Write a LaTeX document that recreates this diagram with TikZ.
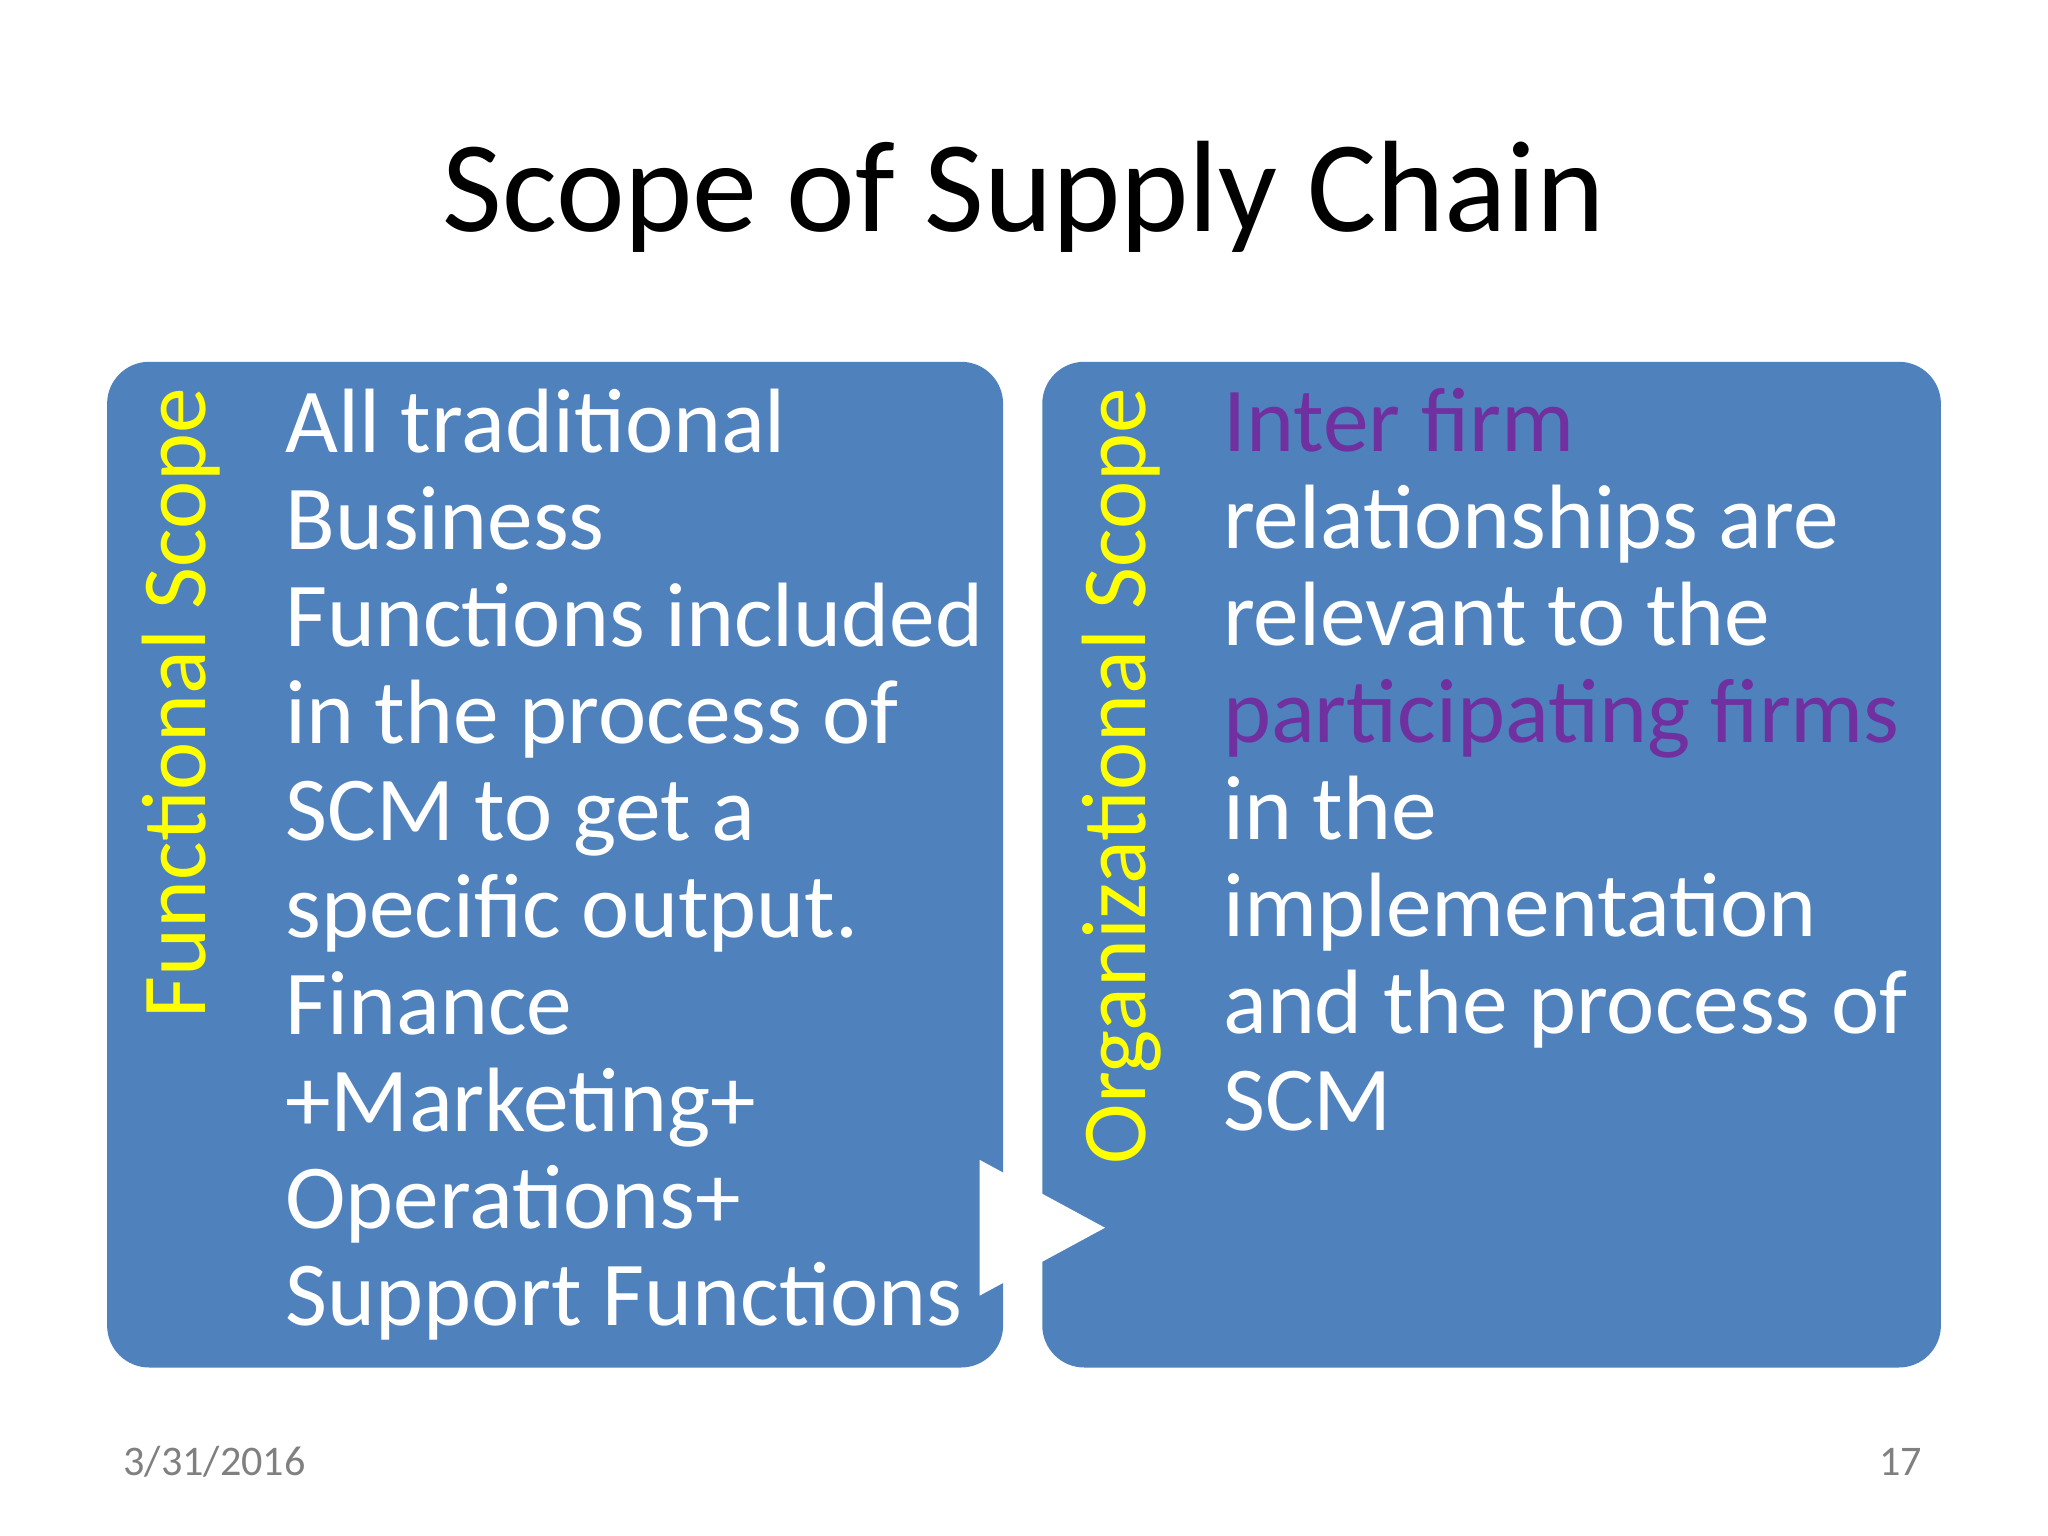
\documentclass[tikz,border=0pt]{standalone}
\usepackage{fontspec}
\setmainfont{Carlito}
\definecolor{boxblue}{HTML}{4F81BD}
\definecolor{purp}{HTML}{7030A0}
\definecolor{yel}{HTML}{FFFF00}
\begin{document}
\begin{tikzpicture}[x=0.013061cm,y=-0.013061cm,
  box/.style={fill=boxblue,rounded corners=0.42cm},
  body/.style={anchor=north west,inner sep=0,align=left,text=white,font=\fontsize{26}{27.6}\selectfont},
  side/.style={rotate=90,anchor=base,inner sep=0,text=yel,font=\fontsize{26}{30}\selectfont}]
\useasboundingbox (0,0) rectangle (1568,1176);
\node[anchor=base,inner sep=0,font=\fontsize{37}{40}\selectfont] (title) at (784,177) {Scope of Supply Chain};
\fill[box] (82,277) rectangle (768,1047);
\fill[box] (798,277) rectangle (1486,1047);
\node[side] (fs) at (157,538) {Functional Scope};
\node[side] (os) at (877,594) {Organizational Scope};
\node[body] (lt) at (218,297) {All traditional\\Business\\Functions included\\in the process of\\SCM to get a\\specific output.\\Finance\\+Marketing+\\Operations+\\Support Functions};
\node[body] (rt) at (936,297) {\textcolor{purp}{Inter firm}\\relationships are\\relevant to the\\\textcolor{purp}{participating firms}\\in the\\implementation\\and the process of\\SCM};
\fill[white] (750,888) -- (846,940) -- (750,992) -- cycle;
\node[anchor=base west,inner sep=0,text=gray,font=\fontsize{12}{14}\selectfont] (date) at (94,1130) {3/31/2016};
\node[anchor=base east,inner sep=0,text=gray,font=\fontsize{12}{14}\selectfont] (pg) at (1472,1130) {17};
\end{tikzpicture}
\end{document}
